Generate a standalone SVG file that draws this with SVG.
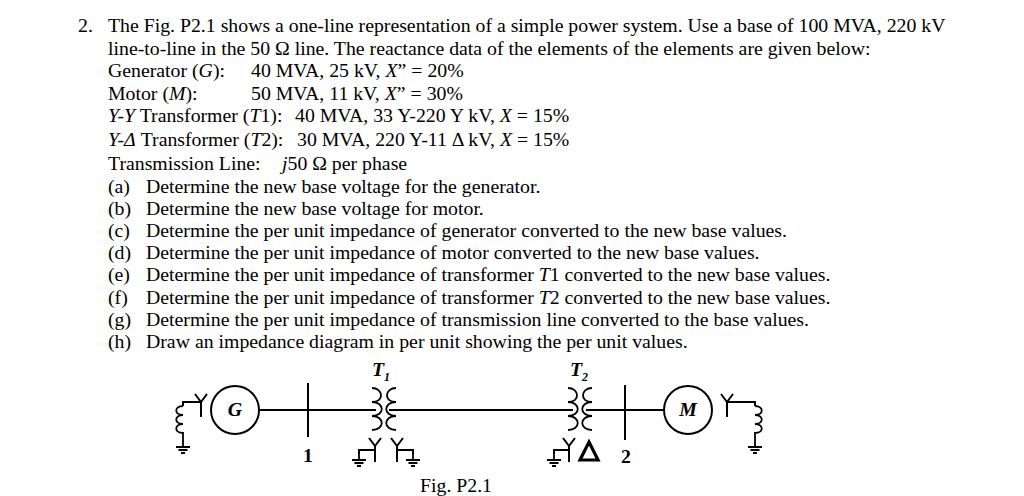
<svg xmlns="http://www.w3.org/2000/svg" width="1024" height="496" viewBox="0 0 1024 496">
<style>
text{font-family:"Liberation Serif","Times New Roman",serif;font-size:19.8px;fill:#000}
.w{stroke:#000;stroke-width:2;fill:none}
.c{stroke:#000;stroke-width:1.8;fill:none}
.b{font-weight:bold;font-style:italic}
</style>
<defs>
<g id="gnd"><path class="c" d="M0,0v6M-7,6h14M-4.5,9h9M-2,12h4"/></g>
<path id="cl" class="c" d="M0,0c11,0,13,14,0,14c13,0,13,14,0,14c13,0,13,14,0,14"/>
<path id="cr" class="c" d="M0,0c-11,0,-13,14,0,14c-13,0,-13,14,0,14c-13,0,-13,14,0,14"/>
</defs>
<rect width="1024" height="496" fill="#fff"/>
<g id="text">
<text x="78" y="32">2.</text>
<text x="108" y="32">The Fig. P2.1 shows a one-line representation of a simple power system. Use a base of 100 MVA, 220 kV</text>
<text x="108" y="55">line-to-line in the 50 Ω line. The reactance data of the elements of the elements are given below:</text>
<text x="108" y="77">Generator (<tspan font-style="italic">G</tspan>):</text><text x="251" y="77">40 MVA, 25 kV, <tspan font-style="italic">X</tspan>” = 20%</text>
<text x="108" y="100">Motor (<tspan font-style="italic">M</tspan>):</text><text x="251" y="100">50 MVA, 11 kV, <tspan font-style="italic">X</tspan>” = 30%</text>
<text x="108" y="122"><tspan font-style="italic">Y-Y</tspan> Transformer (<tspan font-style="italic">T</tspan>1):</text><text x="295" y="122">40 MVA, 33 Y-220 Y kV, <tspan font-style="italic">X</tspan> = 15%</text>
<text x="108" y="146"><tspan font-style="italic">Y-Δ</tspan> Transformer (<tspan font-style="italic">T</tspan>2):</text><text x="297" y="146">30 MVA, 220 Y-11 Δ kV, <tspan font-style="italic">X</tspan> = 15%</text>
<text x="108" y="170">Transmission Line:</text><text x="282" y="170"><tspan font-style="italic">j</tspan>50 Ω per phase</text>
<text x="108" y="193">(a)</text><text x="146" y="193">Determine the new base voltage for the generator.</text>
<text x="108" y="215">(b)</text><text x="146" y="215">Determine the new base voltage for motor.</text>
<text x="108" y="237">(c)</text><text x="146" y="237">Determine the per unit impedance of generator converted to the new base values.</text>
<text x="108" y="259">(d)</text><text x="146" y="259">Determine the per unit impedance of motor converted to the new base values.</text>
<text x="108" y="281">(e)</text><text x="146" y="281">Determine the per unit impedance of transformer <tspan font-style="italic">T</tspan>1 converted to the new base values.</text>
<text x="108" y="304">(f)</text><text x="146" y="304">Determine the per unit impedance of transformer <tspan font-style="italic">T</tspan>2 converted to the new base values.</text>
<text x="108" y="326">(g)</text><text x="146" y="326">Determine the per unit impedance of transmission line converted to the base values.</text>
<text x="108" y="348">(h)</text><text x="146" y="348">Draw an impedance diagram in per unit showing the per unit values.</text>
<text x="420" y="492" font-size="17">Fig. P2.1</text>
</g>
<g id="connectors" class="w">
<path d="M259,410H376M389,410H573M586,410H664"/>
</g>
<g id="gen">
<circle class="w" cx="235" cy="410" r="24"/>
<text x="235" y="416" text-anchor="middle" class="b" font-size="15">G</text>
<path class="w" d="M201,417v-15l-6,-8M201,402l6,-8M201,402h-18v4"/>
<path class="c" d="M183,406c-9,0,-9,9,0,9c-9,0,-9,9,0,9c-9,0,-9,9,0,9v8"/>
<use href="#gnd" transform="translate(183,441)"/>
</g>
<g id="bus1">
<path class="w" d="M308,383v54"/>
<text x="308" y="462" text-anchor="middle" font-weight="bold" font-size="17">1</text>
</g>
<g id="T1">
<text x="381" y="376" text-anchor="middle" class="b" font-size="18">T<tspan font-size="12" dy="5">1</tspan></text>
<use href="#cl" transform="translate(372,388)"/>
<use href="#cr" transform="translate(396,388)"/>
<path class="w" d="M375,462v-16l-6,-8M375,446l6,-8M375,450h-16v4"/>
<use href="#gnd" transform="translate(359,454)"/>
<path class="w" d="M397,462v-16l-6,-8M397,446l6,-8M397,450h16v4"/>
<use href="#gnd" transform="translate(413,454)"/>
</g>
<g id="T2">
<text x="579" y="376" text-anchor="middle" class="b" font-size="18">T<tspan font-size="12" dy="5">2</tspan></text>
<use href="#cl" transform="translate(568,388)"/>
<use href="#cr" transform="translate(592,388)"/>
<path class="w" d="M569,462v-16l-6,-8M569,446l6,-8M569,450h-15v4"/>
<use href="#gnd" transform="translate(554,454)"/>
<path d="M589,442L598,460H580Z" fill="none" stroke="#000" stroke-width="3.2"/>
</g>
<g id="bus2">
<path class="w" d="M625,385v55"/>
<text x="626" y="463" text-anchor="middle" font-weight="bold" font-size="17">2</text>
</g>
<g id="motor">
<circle class="w" cx="688" cy="410" r="24"/>
<text x="688" y="416" text-anchor="middle" class="b" font-size="15">M</text>
<path class="w" d="M727,417v-15l-6,-8M727,402l6,-8M727,402h28v4"/>
<path class="c" d="M755,406c9,0,9,9,0,9c9,0,9,9,0,9c9,0,9,9,0,9v8"/>
<use href="#gnd" transform="translate(755,441)"/>
</g>
</svg>
